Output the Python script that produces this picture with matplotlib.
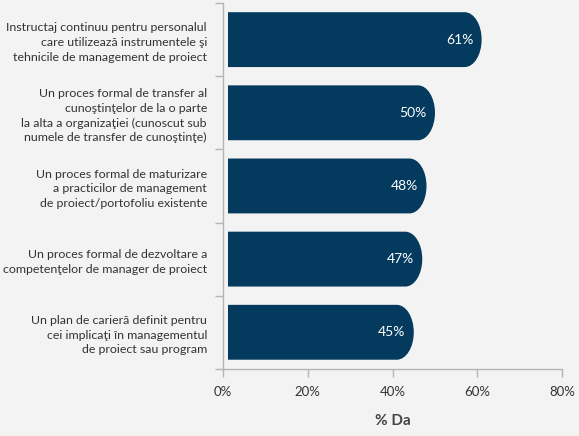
import numpy as np
import matplotlib.pyplot as plt
from matplotlib.path import Path
from matplotlib.patches import PathPatch

# categories top to bottom
labels = [
    "Instructaj continuu pentru personalul\ncare utilizează instrumentele şi\ntehnicile de management de proiect",
    "Un proces formal de transfer al\ncunoştinţelor de la o parte\nla alta a organizaţiei (cunoscut sub\nnumele de transfer de cunoştinţe)",
    "Un proces formal de maturizare\na practicilor de management\nde proiect/portofoliu existente",
    "Un proces formal de dezvoltare a\ncompetenţelor de manager de proiect",
    "Un plan de carieră definit pentru\ncei implicaţi în managementul\nde proiect sau program",
]
values = [61, 50, 48, 47, 45]
xticks = [0, 20, 40, 60, 80]
xlabel = "% Da"

navy = "#033a5e"
bg = "#f3f3f3"
grey = "#b5b5b5"
txt = "#333333"

plt.rcParams['font.family'] = ['Lato', 'DejaVu Sans']

fig = plt.figure(figsize=(5.79, 4.36), dpi=100, facecolor=bg)
ax = fig.add_axes([0.385, 0.154, 0.586, 0.839])
ax.set_facecolor(bg)

n = len(values)
ypos = np.arange(n)
h = 0.75
x0 = 1.2      # small gap from axis
rx = 4.0      # horizontal radius of the rounded end

def rounded_bar(y, val):
    top = y - h / 2
    bot = y + h / 2
    xe = val - rx
    k = 0.5523
    verts = [
        (x0, top), (xe, top),
        (xe + rx * k, top), (val, y - h / 2 * k), (val, y),
        (val, y + h / 2 * k), (xe + rx * k, bot), (xe, bot),
        (x0, bot), (x0, top),
    ]
    codes = [Path.MOVETO, Path.LINETO,
             Path.CURVE4, Path.CURVE4, Path.CURVE4,
             Path.CURVE4, Path.CURVE4, Path.CURVE4,
             Path.LINETO, Path.CLOSEPOLY]
    return PathPatch(Path(verts, codes), facecolor=navy, edgecolor='none')

for y, v in zip(ypos, values):
    ax.add_patch(rounded_bar(y, v))
    ax.annotate(f"{v}%", (v, y), xytext=(-6, 0), textcoords='offset points',
                ha='right', va='center', color='white', fontsize=10)

ax.set_xlim(0, 80)
ax.set_ylim(n - 0.5, -0.5)

ax.set_xticks(xticks)
ax.set_xticklabels([f"{t}%" for t in xticks], color=txt, fontsize=9.5)
ax.set_xlabel(xlabel, fontsize=11, fontweight='bold', color='#444444', labelpad=12)

# category separators on the y axis
ax.set_yticks(np.arange(n + 1) - 0.5, minor=False)
ax.set_yticklabels([])
ax.set_yticks(ypos, minor=True)
ax.set_yticklabels(labels, minor=True, fontsize=8.9, color=txt, linespacing=1.42)
ax.tick_params(axis='y', which='minor', length=0, pad=11.5)
ax.tick_params(axis='y', which='major', length=6, color=grey, width=1)
ax.tick_params(axis='x', length=6, color=grey, width=1, pad=6)
for lab in ax.get_yticklabels(minor=True):
    lab.set_horizontalalignment('right')
    lab.set_multialignment('right')

for s in ['top', 'right']:
    ax.spines[s].set_visible(False)
for s in ['left', 'bottom']:
    ax.spines[s].set_color(grey)
    ax.spines[s].set_linewidth(1)

fig.savefig("out.png", dpi=100, facecolor=bg)
